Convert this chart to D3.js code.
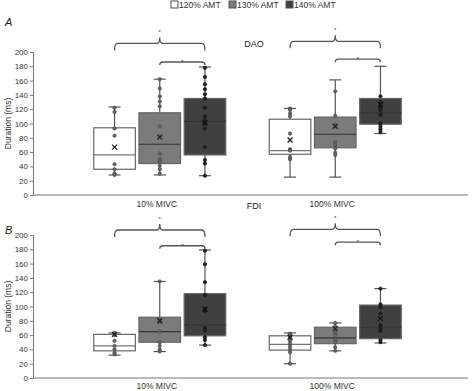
<!DOCTYPE html>
<html>
<head>
<meta charset="utf-8">
<script src="https://cdn.jsdelivr.net/npm/d3@7"></script>
<style>
  body { margin: 0; background: #fff; }
  svg { font-family: "Liberation Sans", Arial, sans-serif; }
  .axis path, .axis line { stroke: #777; }
  .axis text { fill: #333; font-size: 8px; }
</style>
</head>
<body>
<script>

// groups, levels and panels
var groups = ["10% MIVC", "100% MIVC"];
var levels = ["120% AMT", "130% AMT", "140% AMT"];
var muscles = ["DAO", "FDI"];
var yTicks = [0, 20, 40, 60, 80, 100, 120, 140, 160, 180, 200];

// [min, q1, median, q3, max, mean] for each group x level
var daoStats = [
    [[28, 36, 56, 94, 123, 67], [28, 44, 71, 115, 162, 81], [27, 56, 103, 135, 179, 101]],
    [[25, 57, 62, 106, 121, 77], [25, 66, 85, 109, 161, 96], [86, 99, 115, 135, 180, 126]]
];
var fdiStats = [
    [[32, 38, 45, 61, 63, 61], [37, 50, 65, 85, 135, 80], [46, 59, 74, 118, 179, 96]],
    [[20, 39, 47, 59, 63, 57], [38, 48, 56, 71, 77, 69], [49, 55, 71, 102, 125, 83]]
];

// individual subjects
var daoPoints = [
    [[122, 116, 93, 83, 43, 36, 30, 28],
     [162, 149, 138, 131, 124, 96, 82, 58, 50, 47, 41, 36, 30],
     [178, 165, 155, 148, 141, 135, 122, 110, 105, 100, 93, 67, 49, 44, 27]],
    [[121, 119, 114, 110, 86, 64, 62, 53, 50],
     [145, 111, 98, 96, 74, 70, 65, 59, 56],
     [138, 130, 126, 122, 119, 112, 100, 96, 92, 88]]
];
var fdiPoints = [
    [[63, 62, 60, 52, 45, 40, 35, 33],
     [135, 81, 78, 65, 50, 45, 40, 37],
     [178, 159, 134, 116, 97, 94, 70, 66, 57, 53, 46]],
    [[62, 60, 57, 52, 48, 44, 40, 36, 20],
     [77, 72, 69, 63, 60, 54, 50, 43, 38],
     [125, 103, 99, 90, 74, 69, 66, 53, 50]]
];

// significance brackets: group, from level, to level, height (ms)
var daoBrackets = [
    { group: 0, from: 0, to: 2, level: 212 },
    { group: 0, from: 1, to: 2, level: 186 },
    { group: 1, from: 0, to: 2, level: 215 },
    { group: 1, from: 1, to: 2, level: 190 }
];
var fdiBrackets = [
    { group: 0, from: 0, to: 2, level: 207 },
    { group: 0, from: 1, to: 2, level: 185 },
    { group: 1, from: 0, to: 2, level: 208 },
    { group: 1, from: 1, to: 2, level: 190 }
];

var fills = ["#ffffff", "#7b7b7b", "#404040"];

var W = 474, H = 391;
var svg = d3.select("body").append("svg")
    .attr("width", W)
    .attr("height", H);

var x0 = d3.scaleBand().domain(groups).range([72, 423]);
var x1 = d3.scaleBand().domain(levels)
    .range([x0.bandwidth() / 2 - 66, x0.bandwidth() / 2 + 66])
    .paddingInner(0.08);

// legend
var legX = [171, 229, 286];
levels.forEach(function (l, i) {
    svg.append("rect")
        .attr("x", legX[i]).attr("y", 1)
        .attr("width", 7).attr("height", 7)
        .attr("fill", fills[i]).attr("stroke", "#555");
    svg.append("text")
        .attr("x", legX[i] + 8).attr("y", 8)
        .attr("font-size", 8.5).attr("fill", "#333")
        .text(l);
});

var panels = [
    { name: "DAO", letter: "A", top: 52, bottom: 195, stats: daoStats, pts: daoPoints, br: daoBrackets, letterY: 26, nameY: 47, labY: 207 },
    { name: "FDI", letter: "B", top: 235, bottom: 378, stats: fdiStats, pts: fdiPoints, br: fdiBrackets, letterY: 234, nameY: 209, labY: 389 }
];

panels.forEach(function (p) {
    var y = d3.scaleLinear().domain([0, 200]).range([p.bottom, p.top]);
    var g = svg.append("g");

    // y axis
    g.append("g")
        .attr("class", "axis")
        .attr("transform", "translate(33,0)")
        .call(d3.axisLeft(y).tickValues(yTicks).tickSize(3).tickPadding(2));

    // x axis line
    g.append("line")
        .attr("x1", 33).attr("x2", 468)
        .attr("y1", p.bottom).attr("y2", p.bottom)
        .attr("stroke", "#777").attr("stroke-width", 1.2);

    g.append("text")
        .attr("transform", "translate(11," + ((p.top + p.bottom) / 2) + ") rotate(-90)")
        .attr("text-anchor", "middle")
        .attr("font-size", 8.5).attr("fill", "#333")
        .text("Duration (ms)");

    g.append("text")
        .attr("x", 5).attr("y", p.letterY)
        .attr("font-size", 11).attr("font-style", "italic").attr("fill", "#222")
        .text(p.letter);

    g.append("text")
        .attr("x", 254).attr("y", p.nameY)
        .attr("text-anchor", "middle")
        .attr("font-size", 9).attr("fill", "#222")
        .text(p.name);

    groups.forEach(function (gr, gi) {
        g.append("text")
            .attr("x", x0(gr) + x0.bandwidth() / 2 - 3).attr("y", p.labY)
            .attr("text-anchor", "middle")
            .attr("font-size", 8.5).attr("fill", "#333")
            .text(gr);

        levels.forEach(function (lv, li) {
            var s = p.stats[gi][li];
            var bx = x0(gr) + x1(lv);
            var bw = x1.bandwidth();
            var cx = bx + bw / 2;
            var box = g.append("g");

            // whiskers
            box.append("line")
                .attr("x1", cx).attr("x2", cx)
                .attr("y1", y(s[0])).attr("y2", y(s[4]))
                .attr("stroke", "#555").attr("stroke-width", 1.2);
            [s[0], s[4]].forEach(function (v) {
                box.append("line")
                    .attr("x1", cx - 6).attr("x2", cx + 6)
                    .attr("y1", y(v)).attr("y2", y(v))
                    .attr("stroke", "#555").attr("stroke-width", 1.2);
            });

            box.append("rect")
                .attr("x", bx).attr("y", y(s[3]))
                .attr("width", bw).attr("height", y(s[1]) - y(s[3]))
                .attr("fill", fills[li])
                .attr("stroke", "#666").attr("stroke-width", 1.2);

            box.append("line")
                .attr("x1", bx).attr("x2", bx + bw)
                .attr("y1", y(s[2])).attr("y2", y(s[2]))
                .attr("stroke", li == 0 ? "#777" : "#333").attr("stroke-width", 1.2);

            // subject points
            box.selectAll("circle")
                .data(p.pts[gi][li])
                .enter().append("circle")
                .attr("cx", cx)
                .attr("cy", function (d) { return y(d); })
                .attr("r", 1.7)
                .attr("fill", li == 2 ? "#222" : "#666")
                .attr("stroke", li == 2 ? "#111" : "#444")
                .attr("stroke-width", 0.6);

            // mean marker
            var my = y(s[5]);
            box.append("path")
                .attr("d", "M" + (cx - 2.5) + "," + (my - 2.5) + "L" + (cx + 2.5) + "," + (my + 2.5) +
                    "M" + (cx + 2.5) + "," + (my - 2.5) + "L" + (cx - 2.5) + "," + (my + 2.5))
                .attr("stroke", li == 2 ? "#111" : "#222").attr("stroke-width", 1.3);
        });
    });

    // brackets
    p.br.forEach(function (b) {
        var gr = groups[b.group];
        var xl = x0(gr) + x1(levels[b.from]) + x1.bandwidth() / 2;
        var xr = x0(gr) + x1(levels[b.to]) + x1.bandwidth() / 2;
        var yh = y(b.level);
        var xc = (xl + xr) / 2;
        var big = b.to - b.from > 1;
        var drop = big ? 7 : 3;
        var d = "M" + xl + "," + (yh + drop) +
            "Q" + xl + "," + yh + " " + (xl + 3) + "," + yh;
        if (big) {
            d += "L" + (xc - 3) + "," + yh +
                "Q" + xc + "," + yh + " " + xc + "," + (yh - 6) +
                "Q" + xc + "," + yh + " " + (xc + 3) + "," + yh;
        }
        d += "L" + (xr - 3) + "," + yh + "Q" + xr + "," + yh + " " + xr + "," + (yh + drop);
        g.append("path")
            .attr("d", d)
            .attr("fill", "none")
            .attr("stroke", "#555").attr("stroke-width", 1.3);
        g.append("text")
            .attr("x", xc).attr("y", big ? yh - 9 : yh + 2)
            .attr("text-anchor", "middle")
            .attr("font-size", 6).attr("fill", "#333")
            .text("*");
    });
});
</script>
</body>
</html>
